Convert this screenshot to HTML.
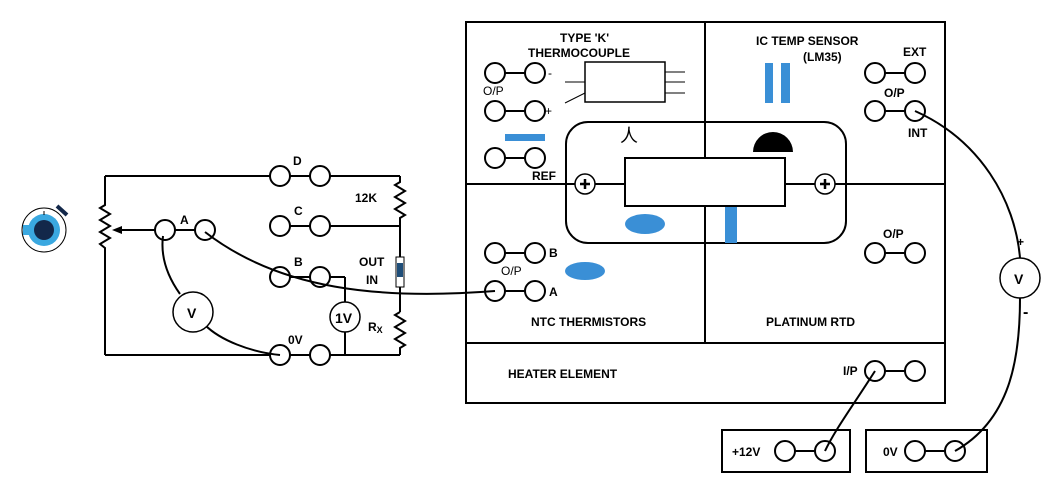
<!DOCTYPE html>
<html><head><meta charset="utf-8"><style>
html,body{margin:0;padding:0;background:#fff}
svg{display:block}
text{font-family:"Liberation Sans",sans-serif;font-size:12px;font-weight:bold;fill:#000}
</style></head><body>
<svg width="1060" height="495" viewBox="0 0 1060 495" xmlns="http://www.w3.org/2000/svg">
<g stroke="#000" stroke-width="2" fill="none">
<rect x="466" y="22" width="479" height="381"/>
<line x1="705" y1="22" x2="705" y2="343"/>
<line x1="466" y1="184" x2="945" y2="184"/>
<line x1="466" y1="343" x2="945" y2="343"/>
<rect x="566" y="122" width="280" height="121" rx="22" fill="#fff"/>
<line x1="705" y1="122" x2="705" y2="158"/>
<line x1="705" y1="206" x2="705" y2="243"/>
<line x1="566" y1="184" x2="625" y2="184"/>
<line x1="785" y1="184" x2="846" y2="184"/>
<rect x="625" y="158" width="160" height="48" fill="#fff"/>
<rect x="585" y="62" width="80" height="40" stroke-width="1.5"/>
<g stroke-width="1"><line x1="665" y1="72" x2="685" y2="72"/><line x1="665" y1="82" x2="685" y2="82"/><line x1="665" y1="93" x2="685" y2="93"/><line x1="565" y1="82" x2="585" y2="82"/><line x1="565" y1="103" x2="585" y2="93"/></g>
<polyline points="105,176 105,205 100,208 110,214 100,220 110,226 100,232 110,238 100,244 105,248 105,355"/>
<line x1="105" y1="176" x2="270" y2="176"/>
<line x1="330" y1="176" x2="400" y2="176"/>
<polyline points="400,176 400,182 395,185 405,191 395,197 405,203 395,209 405,215 400,218 400,226"/>
<line x1="330" y1="226" x2="400" y2="226"/>
<line x1="400" y1="226" x2="400" y2="257"/>
<line x1="400" y1="287" x2="400" y2="312"/>
<polyline points="400,312 395,315 405,321 395,327 405,333 395,339 405,345 400,348 400,355"/>
<line x1="105" y1="355" x2="270" y2="355"/>
<line x1="330" y1="355" x2="400" y2="355"/>
<line x1="330" y1="277" x2="345" y2="277"/><line x1="345" y1="277" x2="345" y2="302"/><line x1="345" y1="332" x2="345" y2="355"/>
<line x1="155" y1="230" x2="118" y2="230"/>
<line x1="175" y1="230" x2="195" y2="230"/>
<line x1="290" y1="176" x2="310" y2="176"/><line x1="290" y1="226" x2="310" y2="226"/><line x1="290" y1="277" x2="310" y2="277"/><line x1="290" y1="355" x2="310" y2="355"/>
<path d="M163,236 C160,260 170,280 180,294"/>
<path d="M205,325 C220,340 250,352 280,355"/>
<path d="M205,232 C280,290 380,300 495,291"/>
<path d="M915,111 C980,140 1015,200 1020,258"/>
<path d="M1020,298 C1020,360 1010,420 955,451"/>
<path d="M875,371 C850,410 835,430 825,451"/>
<rect x="722" y="430" width="128" height="42"/>
<rect x="866" y="430" width="121" height="42"/>
<g><line x1="505" y1="73" x2="525" y2="73"/><line x1="505" y1="111" x2="525" y2="111"/><line x1="505" y1="158" x2="525" y2="158"/><line x1="885" y1="73" x2="905" y2="73"/><line x1="885" y1="111" x2="905" y2="111"/><line x1="885" y1="253" x2="905" y2="253"/><line x1="505" y1="253" x2="525" y2="253"/><line x1="505" y1="291" x2="525" y2="291"/><line x1="885" y1="371" x2="905" y2="371"/><line x1="795" y1="451" x2="815" y2="451"/><line x1="925" y1="451" x2="945" y2="451"/></g>
</g>
<polygon points="112,230 122,226 122,234" fill="#000"/>
<rect x="396" y="257" width="8" height="30" fill="#fff" stroke="#000" stroke-width="1"/>
<rect x="397" y="263" width="6" height="14" fill="#1f4e79"/>
<g fill="none" stroke="#000" stroke-width="2">
<circle cx="495" cy="73" r="10"/><circle cx="535" cy="73" r="10"/>
<circle cx="495" cy="111" r="10"/><circle cx="535" cy="111" r="10"/>
<circle cx="495" cy="158" r="10"/><circle cx="535" cy="158" r="10"/>
<circle cx="875" cy="73" r="10"/><circle cx="915" cy="73" r="10"/>
<circle cx="875" cy="111" r="10"/><circle cx="915" cy="111" r="10"/>
<circle cx="875" cy="253" r="10"/><circle cx="915" cy="253" r="10"/>
<circle cx="495" cy="253" r="10"/><circle cx="535" cy="253" r="10"/>
<circle cx="495" cy="291" r="10"/><circle cx="535" cy="291" r="10"/>
<circle cx="875" cy="371" r="10"/><circle cx="915" cy="371" r="10"/>
<circle cx="785" cy="451" r="10"/><circle cx="825" cy="451" r="10"/>
<circle cx="915" cy="451" r="10"/><circle cx="955" cy="451" r="10"/>
<circle cx="280" cy="176" r="10"/><circle cx="320" cy="176" r="10"/>
<circle cx="280" cy="226" r="10"/><circle cx="320" cy="226" r="10"/>
<circle cx="280" cy="277" r="10"/><circle cx="320" cy="277" r="10"/>
<circle cx="280" cy="355" r="10"/><circle cx="320" cy="355" r="10"/>
<circle cx="165" cy="230" r="10"/><circle cx="205" cy="230" r="10"/>
</g>
<g fill="#fff" stroke="#000" stroke-width="1.5">
<circle cx="193" cy="312" r="20"/><circle cx="345" cy="317" r="15"/><circle cx="1020" cy="278" r="20"/>
<circle cx="585" cy="184" r="10"/><circle cx="825" cy="184" r="10"/>
</g>
<g stroke="#000" stroke-width="2.5"><line x1="580" y1="184" x2="590" y2="184"/><line x1="585" y1="179" x2="585" y2="189"/><line x1="820" y1="184" x2="830" y2="184"/><line x1="825" y1="179" x2="825" y2="189"/></g>
<rect x="505" y="134" width="40" height="7" fill="#3a8fd6"/>
<rect x="765" y="63" width="8" height="40" fill="#3a8fd6"/>
<rect x="781" y="63" width="9" height="40" fill="#3a8fd6"/>
<rect x="725" y="207" width="12" height="36" fill="#3a8fd6"/>
<ellipse cx="645" cy="224" rx="20" ry="10" fill="#3a8fd6"/>
<ellipse cx="585" cy="271" rx="20" ry="9" fill="#3a8fd6"/>
<path d="M753,152 A20,20 0 0 1 793,152 Z" fill="#000"/>
<text x="620" y="142" style="font-size:18px;font-weight:normal" font-family="Noto Sans CJK SC">人</text>
<circle cx="44" cy="230" r="22" fill="#fff" stroke="#000" stroke-width="1"/>
<circle cx="44" cy="230" r="16" fill="#3aa8e0"/>
<rect x="23" y="225" width="12" height="10" fill="#3aa8e0"/>
<circle cx="44" cy="230" r="10" fill="#13284a"/>
<line x1="57" y1="206" x2="67" y2="215" stroke="#13284a" stroke-width="4"/>
<line x1="44" y1="211" x2="44" y2="215" stroke="#000" stroke-width="1"/>
<text x="560" y="42">TYPE 'K'</text>
<text x="528" y="57">THERMOCOUPLE</text>
<text x="548" y="77" style="font-weight:normal">-</text>
<text x="545" y="115" style="font-weight:normal">+</text>
<text x="483" y="95" style="font-weight:normal">O/P</text>
<text x="532" y="180">REF</text>
<text x="756" y="45">IC TEMP SENSOR</text>
<text x="803" y="61">(LM35)</text>
<text x="903" y="56">EXT</text>
<text x="884" y="97">O/P</text>
<text x="908" y="137">INT</text>
<text x="883" y="238">O/P</text>
<text x="549" y="257">B</text>
<text x="501" y="275" style="font-weight:normal">O/P</text>
<text x="549" y="296">A</text>
<text x="531" y="326">NTC THERMISTORS</text>
<text x="766" y="326">PLATINUM RTD</text>
<text x="508" y="378">HEATER ELEMENT</text>
<text x="843" y="375">I/P</text>
<text x="732" y="456">+12V</text>
<text x="883" y="456">0V</text>
<text x="1017" y="246">+</text>
<text x="1023" y="317" style="font-size:16px">-</text>
<text x="1014" y="284" style="font-size:14px">V</text>
<text x="187" y="318" style="font-size:14px">V</text>
<text x="335" y="323" style="font-size:14px">1V</text>
<text x="293" y="165">D</text>
<text x="294" y="215">C</text>
<text x="294" y="266">B</text>
<text x="180" y="224">A</text>
<text x="288" y="344">0V</text>
<text x="355" y="202">12K</text>
<text x="359" y="266">OUT</text>
<text x="366" y="284">IN</text>
<text x="368" y="331">R<tspan style="font-size:9px" dy="2">X</tspan></text>
</svg>
</body></html>
